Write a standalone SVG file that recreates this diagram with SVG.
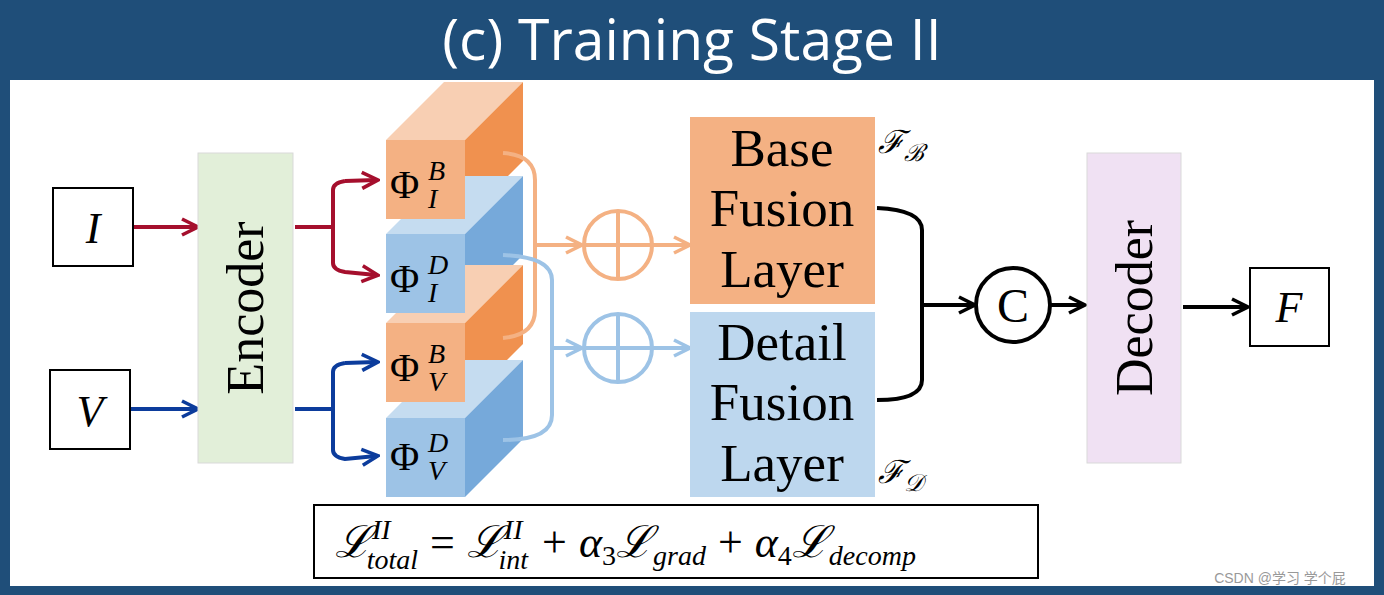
<svg xmlns="http://www.w3.org/2000/svg" width="1384" height="595" viewBox="0 0 1384 595">
<style>
.m{font-family:"Liberation Serif","DejaVu Serif",serif;fill:#000}
.i{font-style:italic}
.box{fill:#fff;stroke:#000;stroke-width:2}
.bl{fill:none;stroke:#000;stroke-width:4}
.or{fill:none;stroke:#f4b183;stroke-width:4}
.lb{fill:none;stroke:#9dc3e6;stroke-width:4}
.ot{fill:#f8cfb3}.os{fill:#f0914f}.of{fill:#f4b183}
.bt{fill:#c5dcf0}.bs{fill:#76a9da}.bf{fill:#9dc3e6}
</style>
<defs>
<marker id="ar" viewBox="0 0 10 10" refX="8" refY="5" markerWidth="20" markerHeight="20" orient="auto" markerUnits="userSpaceOnUse"><path d="M1,1 L9,5 L1,9" fill="none" stroke="#a50f2d" stroke-width="1.8"/></marker>
<marker id="ab" viewBox="0 0 10 10" refX="8" refY="5" markerWidth="20" markerHeight="20" orient="auto" markerUnits="userSpaceOnUse"><path d="M1,1 L9,5 L1,9" fill="none" stroke="#0c3c9c" stroke-width="1.8"/></marker>
<marker id="ao" viewBox="0 0 10 10" refX="8" refY="5" markerWidth="20" markerHeight="20" orient="auto" markerUnits="userSpaceOnUse"><path d="M1,1 L9,5 L1,9" fill="none" stroke="#f4b183" stroke-width="1.8"/></marker>
<marker id="al" viewBox="0 0 10 10" refX="8" refY="5" markerWidth="20" markerHeight="20" orient="auto" markerUnits="userSpaceOnUse"><path d="M1,1 L9,5 L1,9" fill="none" stroke="#9dc3e6" stroke-width="1.8"/></marker>
<marker id="aK" viewBox="0 0 10 10" refX="8" refY="5" markerWidth="20" markerHeight="20" orient="auto" markerUnits="userSpaceOnUse"><path d="M1,1 L9,5 L1,9" fill="none" stroke="#000" stroke-width="1.8"/></marker>
</defs>
<rect x="0" y="0" width="1384" height="595" fill="#1f4e79"/>
<rect x="10" y="80" width="1364" height="506" fill="#fff"/>
<text x="692" y="60" text-anchor="middle" font-family="Open Sans, sans-serif" font-size="57" fill="#fff">(c) Training Stage II</text>

<g id="connectors">
<path d="M133,227 H196" stroke="#a50f2d" stroke-width="4" fill="none" marker-end="url(#ar)"/>
<path d="M130,409 H196" stroke="#0c3c9c" stroke-width="4" fill="none" marker-end="url(#ab)"/>
<path d="M295,227 H333 M333,190 Q333,183 345,181 M333,190 V263 Q333,270 345,272 L376,275" stroke="#a50f2d" stroke-width="4" fill="none" marker-end="url(#ar)"/>
<path d="M345,181 L376,180" stroke="#a50f2d" stroke-width="4" fill="none" marker-end="url(#ar)"/>
<path d="M295,409 H333 M333,372 Q333,365 345,363 M333,372 V450 Q333,457 345,459 L376,456" stroke="#0c3c9c" stroke-width="4" fill="none" marker-end="url(#ab)"/>
<path d="M345,363 L376,362" stroke="#0c3c9c" stroke-width="4" fill="none" marker-end="url(#ab)"/>
</g>

<g id="blocks">
<polygon class="ot" points="386,140 444,82 523,82 465,140"/>
<polygon class="os" points="465,140 523,82 523,161 465,219"/>
<polygon class="bt" points="386,234 444,176 523,176 465,234"/>
<polygon class="bs" points="465,234 523,176 523,255 465,313"/>
<polygon class="ot" points="386,323 444,265 523,265 465,323"/>
<polygon class="os" points="465,323 523,265 523,344 465,402"/>
<polygon class="bt" points="386,418 444,360 523,360 465,418"/>
<polygon class="bs" points="465,418 523,360 523,439 465,497"/>
<g id="phiBI"><rect class="of" x="386" y="140" width="79" height="79"/>
<text class="m" x="390" y="198" font-size="40">Φ</text><text class="m i" x="428" y="180" font-size="28">B</text><text class="m i" x="428" y="208" font-size="28">I</text></g>
<g id="phiDI"><rect class="bf" x="386" y="234" width="79" height="79"/>
<text class="m" x="390" y="292" font-size="40">Φ</text><text class="m i" x="428" y="274" font-size="28">D</text><text class="m i" x="428" y="302" font-size="28">I</text></g>
<g id="phiBV"><rect class="of" x="386" y="323" width="79" height="79"/>
<text class="m" x="390" y="381" font-size="40">Φ</text><text class="m i" x="428" y="363" font-size="28">B</text><text class="m i" x="428" y="391" font-size="28">V</text></g>
<g id="phiDV"><rect class="bf" x="386" y="418" width="79" height="79"/>
<text class="m" x="390" y="470" font-size="40">Φ</text><text class="m i" x="428" y="452" font-size="28">D</text><text class="m i" x="428" y="480" font-size="28">V</text></g>
</g>

<g id="connectors2">
<path d="M503,153 Q535,155 535,180 V310 Q535,335 503,338" class="or"/>
<path d="M535,245 H580" class="or" marker-end="url(#ao)"/>
<circle cx="618" cy="245" r="34" class="or"/>
<path d="M584,245 H652 M618,211 V279" class="or"/>
<path d="M652,245 H688" class="or" marker-end="url(#ao)"/>
<path d="M503,255 Q552,257 552,280 V415 Q552,440 503,440" class="lb"/>
<path d="M552,348 H580" class="lb" marker-end="url(#al)"/>
<circle cx="618" cy="348" r="34" class="lb"/>
<path d="M584,348 H652 M618,314 V382" class="lb"/>
<path d="M652,348 H688" class="lb" marker-end="url(#al)"/>
<path d="M877,208 Q922,210 922,230 V380 Q922,400 877,400" class="bl"/>
<path d="M922,305 H973" class="bl" marker-end="url(#aK)"/>
<circle cx="1013" cy="305" r="37" class="bl"/>
<path d="M1050,305 H1083" class="bl" marker-end="url(#aK)"/>
<path d="M1183,307 H1246" class="bl" marker-end="url(#aK)"/>
</g>

<g id="I"><rect class="box" x="53" y="188" width="80" height="78"/><text class="m i" x="93" y="243" font-size="44" text-anchor="middle">I</text></g>
<g id="V"><rect class="box" x="50" y="370" width="80" height="79"/><text class="m i" x="90" y="426" font-size="44" text-anchor="middle">V</text></g>
<g id="encoder"><rect x="198" y="153" width="95" height="310" fill="#e2efd9" stroke="#d9d9d9"/><text class="m" font-size="52" transform="translate(263,308) rotate(-90)" text-anchor="middle">Encoder</text></g>
<g id="base"><rect x="690" y="117" width="185" height="187" fill="#f4b183"/>
<text class="m" x="782" y="166" font-size="53" text-anchor="middle">Base</text>
<text class="m" x="782" y="226" font-size="53" text-anchor="middle">Fusion</text>
<text class="m" x="782" y="287" font-size="53" text-anchor="middle">Layer</text>
<text class="m i" x="878" y="153" font-size="32">ℱ<tspan font-size="24" dy="8">ℬ</tspan></text></g>
<g id="detail"><rect x="690" y="312" width="185" height="185" fill="#bdd7ee"/>
<text class="m" x="782" y="360" font-size="53" text-anchor="middle">Detail</text>
<text class="m" x="782" y="420" font-size="53" text-anchor="middle">Fusion</text>
<text class="m" x="782" y="481" font-size="53" text-anchor="middle">Layer</text>
<text class="m i" x="878" y="483" font-size="32">ℱ<tspan font-size="24" dy="8">𝒟</tspan></text></g>
<g id="concat"><text class="m" x="1013" y="322" font-size="48" text-anchor="middle">C</text></g>
<g id="decoder"><rect x="1087" y="153" width="94" height="310" fill="#f0e1f3" stroke="#d9d9d9"/><text class="m" font-size="52" transform="translate(1152,308) rotate(-90)" text-anchor="middle">Decoder</text></g>
<g id="F"><rect class="box" x="1250" y="268" width="79" height="78"/><text class="m i" x="1289" y="322" font-size="44" text-anchor="middle">F</text></g>
<g id="loss"><rect class="box" x="314" y="505" width="724" height="73"/>
<text class="m i" x="335" y="557" font-size="44">ℒ<tspan font-size="28" dy="-18">II</tspan><tspan font-size="28" dx="-24" dy="30">total</tspan><tspan font-style="normal" font-size="44" dx="12" dy="-12">=</tspan><tspan dx="12">ℒ</tspan><tspan font-size="28" dy="-18">II</tspan><tspan font-size="28" dx="-24" dy="30">int</tspan><tspan font-style="normal" dx="14" dy="-12">+</tspan><tspan dx="12">α</tspan><tspan font-size="28" font-style="normal" dy="8">3</tspan><tspan dy="-8">ℒ</tspan><tspan font-size="28" dy="8">grad</tspan><tspan font-style="normal" dx="12" dy="-8">+</tspan><tspan dx="12">α</tspan><tspan font-size="28" font-style="normal" dy="8">4</tspan><tspan dy="-8">ℒ</tspan><tspan font-size="28" dy="8">decomp</tspan></text></g>
<text x="1280" y="583" text-anchor="middle" font-family="Liberation Sans, Noto Sans CJK SC, sans-serif" font-size="14" fill="#999">CSDN @学习 学个屁</text>
</svg>
